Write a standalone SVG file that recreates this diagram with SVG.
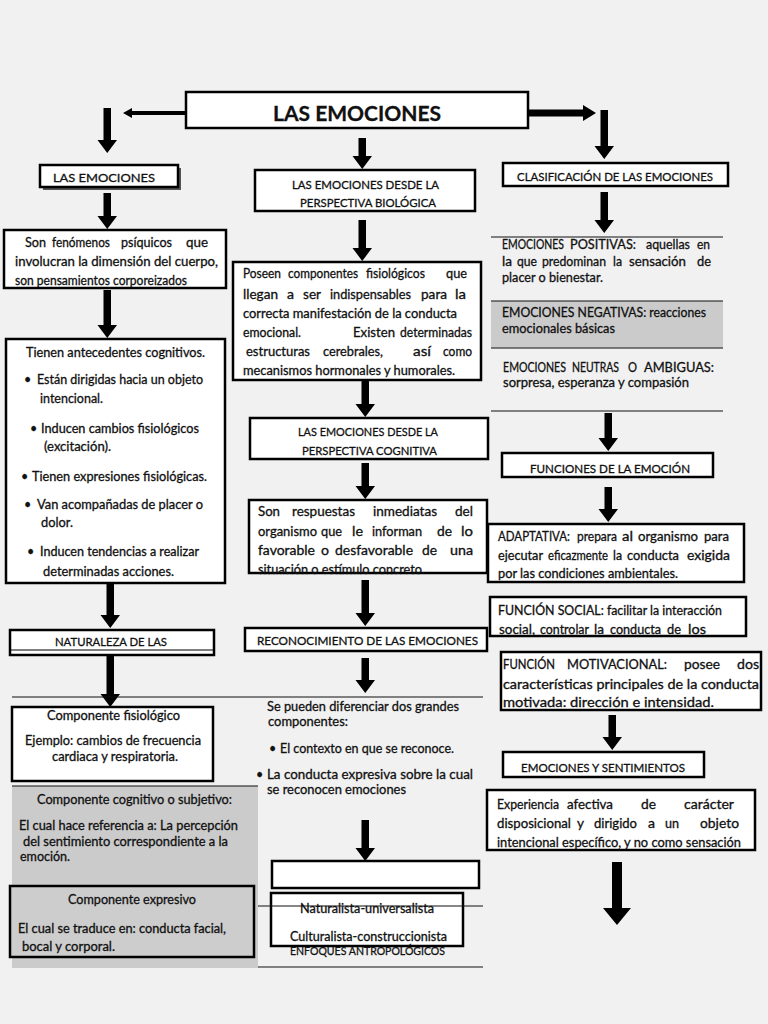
<svg xmlns="http://www.w3.org/2000/svg" width="768" height="1024" viewBox="0 0 768 1024">
<style>
text{font-family:Lato,"Open Sans","Liberation Sans",sans-serif;font-size:12.5px;fill:#111;stroke:#111;stroke-width:0.3;}
.s{font-size:12px;}
.t{font-size:21px;font-weight:bold;stroke-width:0.3;}
.b{fill:#fff;stroke:#000;stroke-width:2.5;}
.g{fill:#cbcbcb;stroke:none;}
.ln{stroke:#111;stroke-width:1.2;fill:none;}
.ar{fill:#000;}
</style>
<rect width="768" height="1024" fill="#f1f1f1"/>

<g id="connectors">
<path class="ar" d="M186 111 L132 111 L132 108 L123 113 L132 118 L132 115 L186 115 Z"/>
<path class="ar" d="M528 109.5 L583 109.5 L583 105 L596 113 L583 121 L583 116.5 L528 116.5 Z"/>
<path class="ar" d="M103.5 108 h7.5 v32 h6 l-9.75 13 l-9.75 -13 h6 Z"/>
<path class="ar" d="M358.5 138 h7.5 v18 h6 l-9.75 13 l-9.75 -13 h6 Z"/>
<path class="ar" d="M600.5 110 h7.5 v36 h6 l-9.75 13 l-9.75 -13 h6 Z"/>
<path class="ar" d="M103.5 193 h7.5 v23 h6 l-9.75 13 l-9.75 -13 h6 Z"/>
<path class="ar" d="M358.5 220 h7.5 v28 h6 l-9.75 13 l-9.75 -13 h6 Z"/>
<path class="ar" d="M600.5 192 h7.5 v28 h6 l-9.75 13 l-9.75 -13 h6 Z"/>
<path class="ar" d="M103.5 290 h7.5 v35 h6 l-9.75 13 l-9.75 -13 h6 Z"/>
<path class="ar" d="M361.5 380 h7.5 v24 h6 l-9.75 13 l-9.75 -13 h6 Z"/>
<path class="ar" d="M361.5 463 h7.5 v23 h6 l-9.75 13 l-9.75 -13 h6 Z"/>
<path class="ar" d="M604.5 413 h7.5 v25 h6 l-9.75 13 l-9.75 -13 h6 Z"/>
<path class="ar" d="M604.5 487 h7.5 v22 h6 l-9.75 13 l-9.75 -13 h6 Z"/>
<path class="ar" d="M106.5 583 h7.5 v32 h6 l-9.75 13 l-9.75 -13 h6 Z"/>
<path class="ar" d="M361.5 580 h7.5 v33 h6 l-9.75 13 l-9.75 -13 h6 Z"/>
<path class="ar" d="M106.5 656 h7.5 v38 h6 l-9.75 13 l-9.75 -13 h6 Z"/>
<path class="ar" d="M361.5 658 h7.5 v22 h6 l-9.75 13 l-9.75 -13 h6 Z"/>
<path class="ar" d="M608.5 715 h7.5 v22 h6 l-9.75 13 l-9.75 -13 h6 Z"/>
<path class="ar" d="M361.5 820 h7.5 v28 h6 l-9.75 13 l-9.75 -13 h6 Z"/>
<path class="ar" d="M612 862 h10 v46 h9 l-14 17 l-14 -17 h9 Z"/>
</g>

<g id="title">
<rect class="b" x="186" y="92" width="342" height="36"/>
<text class="t" x="273" y="121" textLength="168" lengthAdjust="spacingAndGlyphs">LAS EMOCIONES</text>
</g>

<g id="las-emociones">
<rect x="43" y="168" width="138" height="22" fill="#555"/>
<rect class="b" x="40" y="165" width="138" height="22"/>
<text class="s" x="53" y="182" textLength="102" lengthAdjust="spacingAndGlyphs">LAS EMOCIONES</text>
</g>

<g id="fenomenos">
<rect class="b" x="4" y="230" width="222" height="58"/>
<text x="25" y="247" textLength="21" lengthAdjust="spacingAndGlyphs">Son</text>
<text x="52" y="247" textLength="58" lengthAdjust="spacingAndGlyphs">fenómenos</text>
<text x="121" y="247" textLength="51" lengthAdjust="spacingAndGlyphs">psíquicos</text>
<text x="186" y="247" textLength="22" lengthAdjust="spacingAndGlyphs">que</text>
<text x="15" y="266" textLength="203" lengthAdjust="spacingAndGlyphs">involucran la dimensión del cuerpo,</text>
<text x="15" y="285" textLength="172" lengthAdjust="spacingAndGlyphs">son pensamientos corporeizados</text>
</g>

<g id="antecedentes">
<rect class="b" x="6" y="339" width="219" height="244"/>
<text x="26" y="357" textLength="179" lengthAdjust="spacingAndGlyphs">Tienen antecedentes cognitivos.</text>
<text x="24" y="384">•</text>
<text x="37" y="384" textLength="166" lengthAdjust="spacingAndGlyphs">Están dirigidas hacia un objeto</text>
<text x="40" y="403" textLength="63" lengthAdjust="spacingAndGlyphs">intencional.</text>
<text x="30" y="433">•</text>
<text x="41" y="433" textLength="158" lengthAdjust="spacingAndGlyphs">Inducen cambios fisiológicos</text>
<text x="44" y="451" textLength="67" lengthAdjust="spacingAndGlyphs">(excitación).</text>
<text x="21" y="481">•</text>
<text x="32" y="481" textLength="175" lengthAdjust="spacingAndGlyphs">Tienen expresiones fisiológicas.</text>
<text x="24" y="509">•</text>
<text x="37" y="509" textLength="166" lengthAdjust="spacingAndGlyphs">Van acompañadas de placer o</text>
<text x="41" y="527" textLength="32" lengthAdjust="spacingAndGlyphs">dolor.</text>
<text x="27" y="556">•</text>
<text x="40" y="556" textLength="159" lengthAdjust="spacingAndGlyphs">Inducen tendencias a realizar</text>
<text x="43" y="576" textLength="131" lengthAdjust="spacingAndGlyphs">determinadas acciones.</text>
</g>

<g id="naturaleza">
<rect class="b" x="10" y="630" width="204" height="25"/>
<line x1="11" y1="650" x2="213" y2="650" stroke="#000" stroke-width="1.2"/>
<text class="s" x="55" y="646" textLength="112" lengthAdjust="spacingAndGlyphs">NATURALEZA DE LAS</text>
</g>

<g id="lineas">
<line class="ln" x1="12" y1="697" x2="483" y2="697"/>
</g>

<g id="fisiologico">
<rect class="b" x="12" y="707" width="201" height="74"/>
<text x="47" y="720" textLength="133" lengthAdjust="spacingAndGlyphs">Componente fisiológico</text>
<text x="25" y="745" textLength="176" lengthAdjust="spacingAndGlyphs">Ejemplo: cambios de frecuencia</text>
<text x="52" y="761" textLength="126" lengthAdjust="spacingAndGlyphs">cardiaca y respiratoria.</text>
</g>

<g id="cognitivo">
<rect class="g" x="12" y="786" width="246" height="182"/>
<line class="ln" x1="12" y1="786" x2="258" y2="786"/>
<text x="37" y="804" textLength="195" lengthAdjust="spacingAndGlyphs">Componente cognitivo o subjetivo:</text>
<text x="19" y="830" textLength="219" lengthAdjust="spacingAndGlyphs">El cual hace referencia a: La percepción</text>
<text x="23" y="846" textLength="205" lengthAdjust="spacingAndGlyphs">del sentimiento correspondiente a la</text>
<text x="20" y="861" textLength="50" lengthAdjust="spacingAndGlyphs">emoción.</text>
</g>

<g id="expresivo">
<rect x="10" y="886" width="244" height="71" fill="#cdcdcd" stroke="#000" stroke-width="2.5"/>
<text x="68" y="904" textLength="128" lengthAdjust="spacingAndGlyphs">Componente expresivo</text>
<text x="18" y="933" textLength="208" lengthAdjust="spacingAndGlyphs">El cual se traduce en: conducta facial,</text>
<text x="22" y="951" textLength="93" lengthAdjust="spacingAndGlyphs">bocal y corporal.</text>
</g>

<g id="biologica">
<rect class="b" x="255" y="170" width="220" height="41"/>
<text class="s" x="292" y="189" textLength="147" lengthAdjust="spacingAndGlyphs">LAS EMOCIONES DESDE LA</text>
<text class="s" x="300" y="207" textLength="136" lengthAdjust="spacingAndGlyphs">PERSPECTIVA BIOLÓGICA</text>
</g>

<g id="poseen">
<rect class="b" x="233" y="262" width="248" height="118"/>
<text x="243" y="278" textLength="38" lengthAdjust="spacingAndGlyphs">Poseen</text>
<text x="288" y="278" textLength="70" lengthAdjust="spacingAndGlyphs">componentes</text>
<text x="366" y="278" textLength="59" lengthAdjust="spacingAndGlyphs">fisiológicos</text>
<text x="446" y="278" textLength="21" lengthAdjust="spacingAndGlyphs">que</text>
<text x="243" y="299" textLength="35" lengthAdjust="spacingAndGlyphs">llegan</text>
<text x="287" y="299" textLength="7" lengthAdjust="spacingAndGlyphs">a</text>
<text x="303" y="299" textLength="18" lengthAdjust="spacingAndGlyphs">ser</text>
<text x="330" y="299" textLength="81" lengthAdjust="spacingAndGlyphs">indispensables</text>
<text x="421" y="299" textLength="26" lengthAdjust="spacingAndGlyphs">para</text>
<text x="455" y="299" textLength="11" lengthAdjust="spacingAndGlyphs">la</text>
<text x="243" y="318" textLength="214" lengthAdjust="spacingAndGlyphs">correcta manifestación de la conducta</text>
<text x="243" y="337" textLength="58" lengthAdjust="spacingAndGlyphs">emocional.</text>
<text x="353" y="337" textLength="42" lengthAdjust="spacingAndGlyphs">Existen</text>
<text x="400" y="337" textLength="72" lengthAdjust="spacingAndGlyphs">determinadas</text>
<text x="246" y="356" textLength="64" lengthAdjust="spacingAndGlyphs">estructuras</text>
<text x="323" y="356" textLength="60" lengthAdjust="spacingAndGlyphs">cerebrales,</text>
<text x="413" y="356" textLength="18" lengthAdjust="spacingAndGlyphs">así</text>
<text x="443" y="356" textLength="29" lengthAdjust="spacingAndGlyphs">como</text>
<text x="243" y="375" textLength="212" lengthAdjust="spacingAndGlyphs">mecanismos hormonales y humorales.</text>
</g>

<g id="cognitiva">
<rect class="b" x="250" y="418" width="238" height="41"/>
<text class="s" x="298" y="436" textLength="140" lengthAdjust="spacingAndGlyphs">LAS EMOCIONES DESDE LA</text>
<text class="s" x="302" y="455" textLength="135" lengthAdjust="spacingAndGlyphs">PERSPECTIVA COGNITIVA</text>
</g>

<g id="respuestas">
<rect class="b" x="249" y="500" width="238" height="73"/>
<text x="258" y="516" textLength="22" lengthAdjust="spacingAndGlyphs">Son</text>
<text x="292" y="516" textLength="63" lengthAdjust="spacingAndGlyphs">respuestas</text>
<text x="373" y="516" textLength="64" lengthAdjust="spacingAndGlyphs">inmediatas</text>
<text x="455" y="516" textLength="18" lengthAdjust="spacingAndGlyphs">del</text>
<text x="258" y="536" textLength="59" lengthAdjust="spacingAndGlyphs">organismo</text>
<text x="321" y="536" textLength="21" lengthAdjust="spacingAndGlyphs">que</text>
<text x="352" y="536" textLength="11" lengthAdjust="spacingAndGlyphs">le</text>
<text x="372" y="536" textLength="50" lengthAdjust="spacingAndGlyphs">informan</text>
<text x="437" y="536" textLength="15" lengthAdjust="spacingAndGlyphs">de</text>
<text x="461" y="536" textLength="12" lengthAdjust="spacingAndGlyphs">lo</text>
<text x="258" y="555" textLength="57" lengthAdjust="spacingAndGlyphs">favorable</text>
<text x="321" y="555" textLength="8" lengthAdjust="spacingAndGlyphs">o</text>
<text x="335" y="555" textLength="78" lengthAdjust="spacingAndGlyphs">desfavorable</text>
<text x="422" y="555" textLength="15" lengthAdjust="spacingAndGlyphs">de</text>
<text x="450" y="555" textLength="23" lengthAdjust="spacingAndGlyphs">una</text>
<text x="258" y="574" textLength="167" lengthAdjust="spacingAndGlyphs">situación o estímulo concreto.</text>
</g>

<g id="reconocimiento">
<rect class="b" x="245" y="628" width="242" height="23"/>
<text class="s" x="257" y="645" textLength="221" lengthAdjust="spacingAndGlyphs">RECONOCIMIENTO DE LAS EMOCIONES</text>
</g>

<g id="componentes">
<text x="267" y="711" textLength="192" lengthAdjust="spacingAndGlyphs">Se pueden diferenciar dos grandes</text>
<text x="268" y="726" textLength="80" lengthAdjust="spacingAndGlyphs">componentes:</text>
<text x="269" y="753">•</text>
<text x="280" y="753" textLength="174" lengthAdjust="spacingAndGlyphs">El contexto en que se reconoce.</text>
<text x="256" y="779">•</text>
<text x="267" y="779" textLength="206" lengthAdjust="spacingAndGlyphs">La conducta expresiva sobre la cual</text>
<text x="267" y="794" textLength="139" lengthAdjust="spacingAndGlyphs">se reconocen emociones</text>
</g>

<g id="vacio">
<rect class="b" x="272" y="861" width="207" height="27"/>
</g>

<g id="enfoques">
<rect class="b" x="271" y="893" width="192" height="53"/>
<line class="ln" x1="258" y1="906" x2="483" y2="906"/>
<text x="300" y="913" textLength="134" lengthAdjust="spacingAndGlyphs">Naturalista-universalista</text>
<text x="290" y="941" textLength="157" lengthAdjust="spacingAndGlyphs">Culturalista-construccionista</text>
<text class="s" x="290" y="955" textLength="155" lengthAdjust="spacingAndGlyphs">ENFOQUES ANTROPOLÓGICOS</text>
<line class="ln" x1="258" y1="967" x2="483" y2="967"/>
</g>

<g id="clasificacion">
<rect class="b" x="503" y="163" width="225" height="23"/>
<text class="s" x="517" y="181" textLength="196" lengthAdjust="spacingAndGlyphs">CLASIFICACIÓN DE LAS EMOCIONES</text>
</g>

<g id="positivas">
<line class="ln" x1="491" y1="237" x2="723" y2="237"/>
<text x="502" y="249" textLength="62" lengthAdjust="spacingAndGlyphs">EMOCIONES</text>
<text x="570" y="249" textLength="66" lengthAdjust="spacingAndGlyphs">POSITIVAS:</text>
<text x="646" y="249" textLength="44" lengthAdjust="spacingAndGlyphs">aquellas</text>
<text x="697" y="249" textLength="13" lengthAdjust="spacingAndGlyphs">en</text>
<text x="502" y="266" textLength="10" lengthAdjust="spacingAndGlyphs">la</text>
<text x="517" y="266" textLength="20" lengthAdjust="spacingAndGlyphs">que</text>
<text x="542" y="266" textLength="64" lengthAdjust="spacingAndGlyphs">predominan</text>
<text x="613" y="266" textLength="9" lengthAdjust="spacingAndGlyphs">la</text>
<text x="629" y="266" textLength="57" lengthAdjust="spacingAndGlyphs">sensación</text>
<text x="697" y="266" textLength="14" lengthAdjust="spacingAndGlyphs">de</text>
<text x="502" y="282" textLength="101" lengthAdjust="spacingAndGlyphs">placer o bienestar.</text>
</g>

<g id="negativas">
<rect class="g" x="491" y="301" width="232" height="47"/>
<line class="ln" x1="491" y1="301" x2="723" y2="301"/>
<line x1="491" y1="348" x2="723" y2="348" stroke="#555" stroke-width="1.5"/>
<text x="502" y="317" textLength="204" lengthAdjust="spacingAndGlyphs">EMOCIONES NEGATIVAS: reacciones</text>
<text x="502" y="333" textLength="113" lengthAdjust="spacingAndGlyphs">emocionales básicas</text>
</g>

<g id="neutras">
<text x="503" y="372" textLength="63" lengthAdjust="spacingAndGlyphs">EMOCIONES</text>
<text x="572" y="372" textLength="47" lengthAdjust="spacingAndGlyphs">NEUTRAS</text>
<text x="628" y="372" textLength="9" lengthAdjust="spacingAndGlyphs">O</text>
<text x="644" y="372" textLength="70" lengthAdjust="spacingAndGlyphs">AMBIGUAS:</text>
<text x="503" y="387" textLength="186" lengthAdjust="spacingAndGlyphs">sorpresa, esperanza y  compasión</text>
<line class="ln" x1="491" y1="411" x2="723" y2="411"/>
</g>

<g id="funciones">
<rect class="b" x="502" y="453" width="211" height="24"/>
<text class="s" x="530" y="473" textLength="160" lengthAdjust="spacingAndGlyphs">FUNCIONES DE LA EMOCIÓN</text>
</g>

<g id="adaptativa">
<rect class="b" x="488" y="524" width="256" height="58"/>
<text x="498" y="541" textLength="72" lengthAdjust="spacingAndGlyphs">ADAPTATIVA:</text>
<text x="577" y="541" textLength="40" lengthAdjust="spacingAndGlyphs">prepara</text>
<text x="622" y="541" textLength="11" lengthAdjust="spacingAndGlyphs">al</text>
<text x="638" y="541" textLength="60" lengthAdjust="spacingAndGlyphs">organismo</text>
<text x="704" y="541" textLength="25" lengthAdjust="spacingAndGlyphs">para</text>
<text x="498" y="560" textLength="45" lengthAdjust="spacingAndGlyphs">ejecutar</text>
<text x="548" y="560" textLength="60" lengthAdjust="spacingAndGlyphs">eficazmente</text>
<text x="613" y="560" textLength="9" lengthAdjust="spacingAndGlyphs">la</text>
<text x="627" y="560" textLength="52" lengthAdjust="spacingAndGlyphs">conducta</text>
<text x="687" y="560" textLength="43" lengthAdjust="spacingAndGlyphs">exigida</text>
<text x="498" y="578" textLength="180" lengthAdjust="spacingAndGlyphs">por las condiciones ambientales.</text>
</g>

<g id="social">
<rect class="b" x="490" y="597" width="256" height="39"/>
<text x="498" y="615" textLength="224" lengthAdjust="spacingAndGlyphs">FUNCIÓN SOCIAL: facilitar la interacción</text>
<text x="499" y="634" textLength="36" lengthAdjust="spacingAndGlyphs">social,</text>
<text x="540" y="634" textLength="49" lengthAdjust="spacingAndGlyphs">controlar</text>
<text x="594" y="634" textLength="10" lengthAdjust="spacingAndGlyphs">la</text>
<text x="610" y="634" textLength="51" lengthAdjust="spacingAndGlyphs">conducta</text>
<text x="667" y="634" textLength="14" lengthAdjust="spacingAndGlyphs">de</text>
<text x="688" y="634" textLength="18" lengthAdjust="spacingAndGlyphs">los</text>
</g>

<g id="motivacional">
<rect class="b" x="501" y="652" width="260" height="58"/>
<text x="503" y="669" textLength="52" lengthAdjust="spacingAndGlyphs">FUNCIÓN</text>
<text x="567" y="669" textLength="100" lengthAdjust="spacingAndGlyphs">MOTIVACIONAL:</text>
<text x="684" y="669" textLength="36" lengthAdjust="spacingAndGlyphs">posee</text>
<text x="737" y="669" textLength="22" lengthAdjust="spacingAndGlyphs">dos</text>
<text x="503" y="689" textLength="256" lengthAdjust="spacingAndGlyphs">características principales de la conducta</text>
<text x="503" y="707" textLength="211" lengthAdjust="spacingAndGlyphs">motivada: dirección e intensidad.</text>
</g>

<g id="sentimientos">
<rect class="b" x="503" y="752" width="201" height="25"/>
<text class="s" x="521" y="772" textLength="164" lengthAdjust="spacingAndGlyphs">EMOCIONES Y SENTIMIENTOS</text>
</g>

<g id="experiencia">
<rect class="b" x="487" y="790" width="268" height="60"/>
<text x="497" y="809" textLength="62" lengthAdjust="spacingAndGlyphs">Experiencia</text>
<text x="567" y="809" textLength="46" lengthAdjust="spacingAndGlyphs">afectiva</text>
<text x="641" y="809" textLength="15" lengthAdjust="spacingAndGlyphs">de</text>
<text x="684" y="809" textLength="50" lengthAdjust="spacingAndGlyphs">carácter</text>
<text x="497" y="828" textLength="74" lengthAdjust="spacingAndGlyphs">disposicional</text>
<text x="577" y="828" textLength="7" lengthAdjust="spacingAndGlyphs">y</text>
<text x="594" y="828" textLength="43" lengthAdjust="spacingAndGlyphs">dirigido</text>
<text x="648" y="828" textLength="7" lengthAdjust="spacingAndGlyphs">a</text>
<text x="665" y="828" textLength="14" lengthAdjust="spacingAndGlyphs">un</text>
<text x="700" y="828" textLength="39" lengthAdjust="spacingAndGlyphs">objeto</text>
<text x="497" y="847" textLength="244" lengthAdjust="spacingAndGlyphs">intencional específico, y no como sensación</text>
</g>
</svg>
